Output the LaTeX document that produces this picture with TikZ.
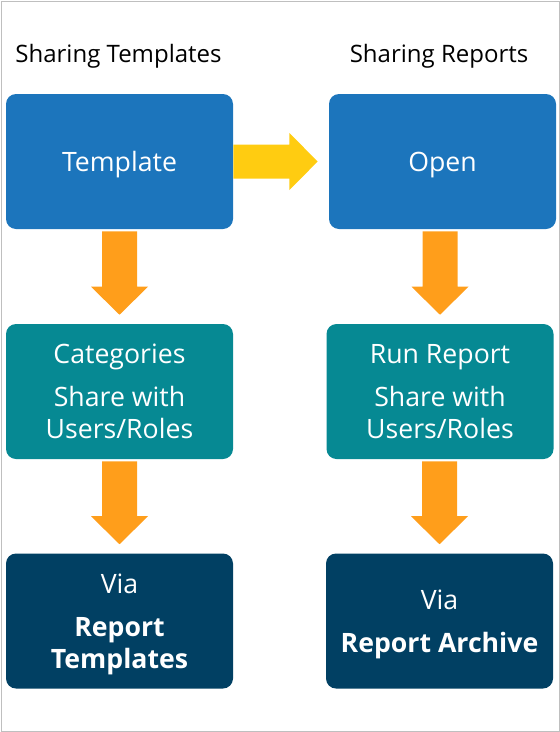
\documentclass[tikz,border=0pt]{standalone}
\usepackage{fontspec}
\setmainfont{Open Sans}
\usetikzlibrary{calc,positioning}
\definecolor{topblue}{RGB}{28,117,188}
\definecolor{midteal}{RGB}{6,137,147}
\definecolor{lownavy}{RGB}{1,64,99}
\definecolor{arroworange}{RGB}{255,158,27}
\definecolor{arrowyellow}{RGB}{255,204,17}
\definecolor{framegray}{RGB}{191,191,191}
\tikzset{
  stepbox/.style={rounded corners=7.5pt, minimum width=170.25pt, minimum height=101.25pt,
    inner sep=0pt, text depth=0pt, text=white, align=center, font=\fontsize{20}{24}\selectfont},
  heading/.style={anchor=base, inner sep=0pt, font=\fontsize{18}{22}\selectfont}
}
\def\downblock(#1)(#2){\fill[arroworange] ($(#2.north |- #1.south)+(-17.5,2)$) -- ($(#2.north |- #1.south)+(17.5,2)$) -- ($(#2.north)+(17.5,-37)$) -- ($(#2.north)+(28.5,-37)$) -- ($(#2.north)+(0,-9)$) -- ($(#2.north)+(-28.5,-37)$) -- ($(#2.north)+(-17.5,-37)$) -- cycle;}

\begin{document}
\begin{tikzpicture}[x=0.75pt, y=-0.75pt]
			%%%%% START %%%%%
			
			\useasboundingbox (0, 0) rectangle (560, 732);
			\draw[framegray, line width=0.75pt] (1, 1) rectangle (559, 731);
			
			\node[heading] (headtmpl) at (118.5, 62) {Sharing Templates};
			\node[heading] (headrep) at (439, 62) {Sharing Reports};
			
			\node[stepbox, fill=topblue] (tmpl) at (119.5, 161.5) {Template};
			\node[stepbox, fill=midteal] (cats) at (119.5, 391.5) {Categories\\[8pt]Share with\\Users/Roles};
			\node[stepbox, fill=lownavy] (viatmpl) at (119.5, 621) {Via\\[8pt]\textbf{Report}\\\textbf{Templates}};
			
			\node[stepbox, fill=topblue] (open) at (442.5, 161.5) {Open};
			\node[stepbox, fill=midteal] (run) at (440, 391.5) {Run Report\\[8pt]Share with\\Users/Roles};
			\node[stepbox, fill=lownavy] (viaarch) at (439.5, 621) {Via\\[8pt]\textbf{Report Archive}};
			
			\fill[arrowyellow] ($(tmpl.east)+(0,-17)$) -- ($(tmpl.east)+(56,-17)$) -- ($(tmpl.east)+(56,-28.5)$) -- ($(open.west)+(-11,0)$) -- ($(tmpl.east)+(56,28.5)$) -- ($(tmpl.east)+(56,17)$) -- ($(tmpl.east)+(0,17)$) -- cycle;
			
			\downblock(tmpl)(cats);
			\downblock(cats)(viatmpl);
			\downblock(open)(run);
			\downblock(run)(viaarch);
			
			%%%%% END %%%%%
\end{tikzpicture}
\end{document}
